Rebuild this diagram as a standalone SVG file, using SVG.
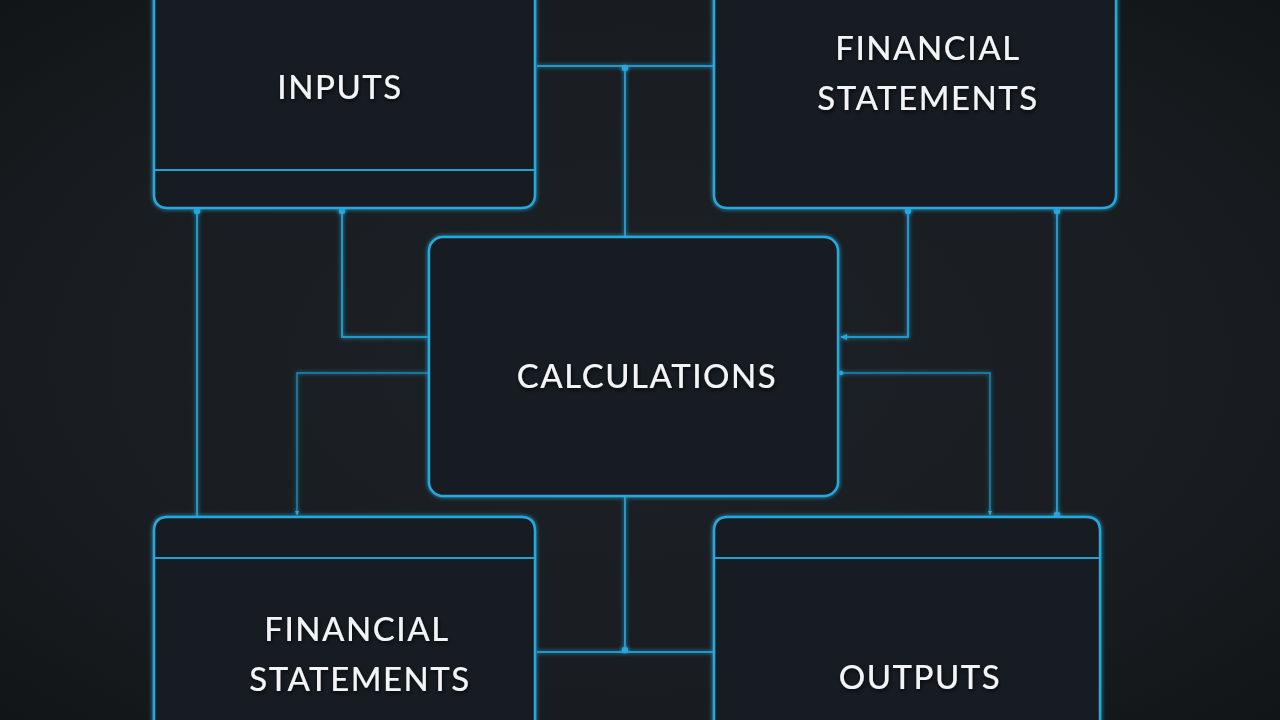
<svg xmlns="http://www.w3.org/2000/svg" width="1280" height="720" viewBox="0 0 1280 720">
<defs>
<radialGradient id="bg" cx="50%" cy="50%" r="75%">
<stop offset="0" stop-color="#1c2125"/>
<stop offset="0.6" stop-color="#191d21"/>
<stop offset="1" stop-color="#101316"/>
</radialGradient>
<filter id="glow" x="-10%" y="-10%" width="120%" height="120%">
<feGaussianBlur stdDeviation="2" result="b"/>
<feMerge><feMergeNode in="b"/><feMergeNode in="SourceGraphic"/></feMerge>
</filter>
<filter id="tshadow" x="-10%" y="-30%" width="120%" height="160%">
<feDropShadow dx="1" dy="2" stdDeviation="2" flood-color="#000" flood-opacity="0.7"/>
</filter>
<marker id="dot" viewBox="0 0 10 10" refX="5" refY="5" markerWidth="4" markerHeight="4" markerUnits="strokeWidth">
<circle cx="5" cy="5" r="4" fill="#2aa6dc"/>
</marker>
<marker id="tip" viewBox="0 0 10 10" refX="8" refY="5" markerWidth="4" markerHeight="4" orient="auto" markerUnits="strokeWidth">
<path d="M0,1 L9,5 L0,9 z" fill="#2aa6dc"/>
</marker>
</defs>
<style>
.box{fill:#171c22;stroke:#27a8dc;stroke-width:2.5}
.div{stroke:#27a0d0;stroke-width:2;fill:none}
.con{fill:none;stroke:#2398c8;stroke-width:2}
.thin{fill:none;stroke:#1f89b4;stroke-width:1.4}
.lbl{font-family:"Lato","Open Sans",sans-serif;font-size:33px;fill:#f2f4f5;text-anchor:middle;letter-spacing:1.5px;font-weight:500}
</style>
<rect width="1280" height="720" fill="url(#bg)"/>

<g id="connectors" filter="url(#glow)">
<path class="con" d="M537,66 H713"/>
<path class="con" d="M625,237 V68" marker-end="url(#dot)"/>
<path class="con" d="M537,652 H713"/>
<path class="con" d="M625,497 V650" marker-end="url(#dot)"/>
<path class="con" d="M197,517 V211" marker-end="url(#dot)"/>
<path class="con" d="M428,337 H342 V211" marker-end="url(#dot)"/>
<path class="thin" d="M428,373 H297 V515" marker-end="url(#tip)"/>
<path class="con" d="M908,211 V337 H841" marker-start="url(#dot)" marker-end="url(#tip)"/>
<path class="thin" d="M841,373 H990 V515" marker-start="url(#dot)" marker-end="url(#tip)"/>
<path class="con" d="M1057,211 V515" marker-start="url(#dot)" marker-end="url(#dot)"/>
</g>

<g id="node-inputs" filter="url(#glow)">
<path class="box" d="M154,-10 V194 Q154,208 168,208 H521 Q535,208 535,194 V-10 Z"/>
<line class="div" x1="155" y1="170" x2="534" y2="170"/>
</g>
<text class="lbl" x="340" y="99" filter="url(#tshadow)">INPUTS</text>

<g id="node-fs-top" filter="url(#glow)">
<path class="box" d="M714,-10 V194 Q714,208 728,208 H1102 Q1116,208 1116,194 V-10 Z"/>
</g>
<text class="lbl" x="928" y="60" filter="url(#tshadow)">FINANCIAL</text>
<text class="lbl" x="928" y="110" filter="url(#tshadow)">STATEMENTS</text>

<g id="node-calc" filter="url(#glow)">
<rect class="box" x="429" y="237" width="409" height="259" rx="14"/>
</g>
<text class="lbl" x="647" y="388" filter="url(#tshadow)">CALCULATIONS</text>

<g id="node-fs-bottom" filter="url(#glow)">
<path class="box" d="M154,730 V531 Q154,517 168,517 H521 Q535,517 535,531 V730 Z"/>
<line class="div" x1="155" y1="558" x2="534" y2="558"/>
</g>
<text class="lbl" x="357" y="641" filter="url(#tshadow)">FINANCIAL</text>
<text class="lbl" x="360" y="691" filter="url(#tshadow)">STATEMENTS</text>

<g id="node-outputs" filter="url(#glow)">
<path class="box" d="M714,730 V531 Q714,517 728,517 H1086 Q1100,517 1100,531 V730 Z"/>
<line class="div" x1="715" y1="558" x2="1099" y2="558"/>
</g>
<text class="lbl" x="920" y="689" filter="url(#tshadow)">OUTPUTS</text>
</svg>
